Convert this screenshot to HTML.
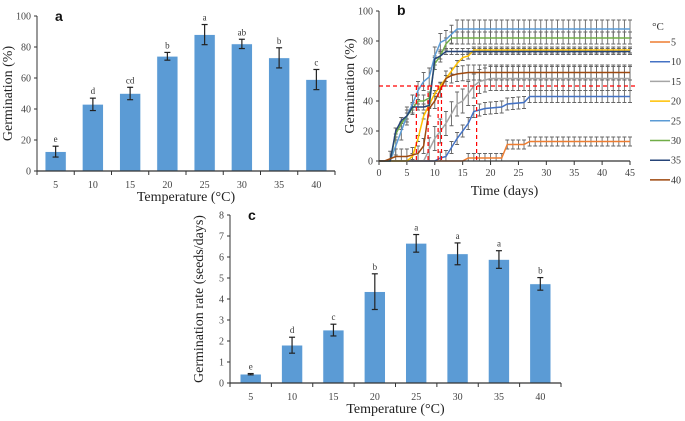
<!DOCTYPE html>
<html><head><meta charset="utf-8"><style>
body{margin:0;background:#fff;}
svg{display:block;font-family:"Liberation Serif",serif;}
</style></head><body>
<svg id="fig" width="685" height="421" viewBox="0 0 685 421"></svg>
<script>
const NS="http://www.w3.org/2000/svg";
const fig=document.getElementById('fig');
// Panel a data
const tempCats=["5","10","15","20","25","30","35","40"];
const germPct=[12.5,43,50,74,88,82,73,59];
const germErr=[3.5,4,4,2.5,6.5,3,6.5,6.5];
const germLetters=["e","d","cd","b","a","ab","b","c"];
const germTicks=[0,20,40,60,80,100];
// Panel c data
const rateVals=[0.42,1.8,2.52,4.35,6.65,6.15,5.88,4.72];
const rateErr=[0.03,0.38,0.28,0.85,0.42,0.52,0.42,0.3];
const rateLetters=["e","d","c","b","a","a","a","b"];
const rateTicks=[0,1,2,3,4,5,6,7,8];
// Panel b data (day, value) per temperature
const seriesNames=["5","10","15","20","25","30","35","40"];
const seriesColors=["#ED7D31","#4472C4","#A5A5A5","#FFC000","#5B9BD5","#70AD47","#264478","#9E480E"];
const s5=[[0,0],[15,0],[16,2],[22,2],[23,11],[26,11],[27,13],[45,13]];
const s10=[[0,0],[10,0],[11,2],[12,3],[14,15],[16,25],[17,33],[19,35],[22,36],[23,38],[26,39],[27,43],[45,43]];
const s15=[[0,0],[8,0],[10,15],[12,25],[14,38],[15,40],[17,50],[18,53],[20,55],[45,55]];
const s20=[[0,0],[5,0],[6,3],[7,15],[8,30],[10,45],[12,55],[14,65],[15,69],[16,70],[17,74],[45,74]];
const s25=[[0,0],[2,0],[3,10],[4,20],[5,30],[6,38],[7,47],[8,53],[9,56],[10,70],[11,79],[12,81],[14,88],[45,88]];
const s30=[[0,0],[2,0],[3,18],[4,25],[5,30],[6,35],[7,40],[8,40],[9,42],[10,65],[11,70],[12,78],[13,82],[45,82]];
const s35=[[0,0],[2,0],[2.5,10],[3,20],[4,27],[5,30],[6,36],[8,36],[9,37],[10,68],[11,70],[12,73],[45,73]];
const s40=[[0,0],[1,0],[3,3],[5,3],[7,5],[8,10],[9,35],[10,40],[12,55],[13,57],[14,58],[16,59],[45,59]];
const seriesData=[s5,s10,s15,s20,s25,s30,s35,s40];
const seriesErr=[3,4,8,2,6,4,2,5];
const t50Days=[6.7,8.8,10.6,11.2,17.5];
const timeTicks=[0,5,10,15,20,25,30,35,40,45];

function el(tag,attrs,parent,text){const e=document.createElementNS(NS,tag);for(const k in attrs)e.setAttribute(k,attrs[k]);if(text!==undefined)e.textContent=text;(parent||fig).appendChild(e);return e;}

function barChart(o){
  const g=el('g',{});
  
  
  const y=v=>o.y0-(v-o.min)/(o.max-o.min)*(o.y0-o.y1);
  const step=(o.x1-o.x0)/o.cats.length;
  const x=i=>o.x0+step*(i+0.5);
  const ya=el('line',{x1:o.x0,y1:o.y1,x2:o.x0,y2:o.y0,stroke:'#333','stroke-width':1},g);
  
  o.ticks.forEach(t=>{
    el('line',{x1:o.x0-3,x2:o.x0,y1:y(t),y2:y(t),stroke:'#333'},g);
    const tl=el('text',{x:o.x0-6,y:y(t)+3.5,'text-anchor':'end','font-size':10,fill:'#444'},g,String(t));
    
  });
  o.cats.forEach((c,i)=>{
    const v=o.vals[i],e=o.errs[i];
    const b=el('rect',{x:x(i)-o.bw/2,y:y(v),width:o.bw,height:o.y0-y(v),fill:'#5B9BD5',stroke:'#fff','stroke-width':0.6},g);
    
    el('line',{x1:x(i),x2:x(i),y1:y(v+e),y2:y(v-e),stroke:'#222','stroke-width':1.2},g);
    el('line',{x1:x(i)-3,x2:x(i)+3,y1:y(v+e),y2:y(v+e),stroke:'#222','stroke-width':1.2},g);
    el('line',{x1:x(i)-3,x2:x(i)+3,y1:y(v-e),y2:y(v-e),stroke:'#222','stroke-width':1.2},g);
    const lt=el('text',{x:x(i),y:y(v+e)-4,'text-anchor':'middle','font-size':9,fill:'#333'},g,o.letters[i]);
    
    const xl=el('text',{x:x(i),y:o.y0+17,'text-anchor':'middle','font-size':10,fill:'#444'},g,c);
    
  });
  const xa=el('line',{x1:o.x0,y1:o.y0,x2:o.x1,y2:o.y0,stroke:'#333','stroke-width':1.2},g);
  
  for(let i=0;i<=o.cats.length;i++)el('line',{x1:o.x0+step*i,x2:o.x0+step*i,y1:o.y0,y2:o.y0+4,stroke:'#333'},g);
  const xt=el('text',{x:(o.x0+o.x1)/2,y:o.y0+30,'text-anchor':'middle','font-size':14,fill:'#222'},g,'Temperature (°C)');
  
  const yt=el('text',{x:0,y:0,'text-anchor':'middle','font-size':14,fill:'#222',transform:`translate(${o.ytx},${(o.y0+o.y1)/2}) rotate(-90)`},g,o.ytitle);
  
  const pl=el('text',{x:o.x0+18,y:o.y1+5,'font-size':14,'font-weight':'bold','font-family':'Liberation Sans, sans-serif',fill:'#111'},g,o.label);
  
}

barChart({name:'panel-a-germination-chart',x0:37,x1:335,y0:171,y1:16,min:0,max:100,bw:21,cats:tempCats,vals:germPct,errs:germErr,letters:germLetters,ticks:germTicks,ytitle:'Germination (%)',ytx:12,label:'a'});
barChart({name:'panel-c-rate-chart',x0:230,x1:561,y0:383,y1:215,min:0,max:8,bw:21,cats:tempCats,vals:rateVals,errs:rateErr,letters:rateLetters,ticks:rateTicks,ytitle:'Germination rate (seeds/days)',ytx:203,label:'c'});

(function(){
  const x0=379,x1=630,y0=161,y1=11;
  const X=d=>x0+d/45*(x1-x0), Y=v=>y0-v/100*(y0-y1);
  const g=el('g',{});
  
  
  [0,20,40,60,80,100].forEach(t=>{
    el('line',{x1:x0-3,x2:x0,y1:Y(t),y2:Y(t),stroke:'#333'},g);
    const tl=el('text',{x:x0-6,y:Y(t)+3.5,'text-anchor':'end','font-size':10,fill:'#444'},g,String(t));
    
  });
  timeTicks.forEach(t=>{
    el('line',{x1:X(t),x2:X(t),y1:y0,y2:y0+4,stroke:'#333'},g);
    const tl=el('text',{x:X(t),y:y0+15,'text-anchor':'middle','font-size':10,fill:'#444'},g,String(t));
    
  });
  function valAt(s,d){for(let i=1;i<s.length;i++){if(d<=s[i][0]){const a=s[i-1],b=s[i];return a[1]+(b[1]-a[1])*(d-a[0])/(b[0]-a[0]);}}return s[s.length-1][1];}
  seriesData.forEach((s,k)=>{
    const e=seriesErr[k];
    for(let d=1;d<=45;d++){const v=valAt(s,d);if(v<=0.5)continue;
      el('path',{d:`M${X(d)},${Y(v+e)}V${Y(Math.max(0,v-e))}M${X(d)-2},${Y(v+e)}h4M${X(d)-2},${Y(Math.max(0,v-e))}h4`,stroke:'#666','stroke-width':0.9,fill:'none'},g);}
  });
  seriesData.forEach((s,k)=>{
    const p=el('polyline',{points:s.map(q=>X(q[0])+','+Y(q[1])).join(' '),fill:'none',stroke:seriesColors[k],'stroke-width':1.5},g);
    
  });
  const h=el('line',{x1:x0,x2:637,y1:Y(50),y2:Y(50),stroke:'#f00','stroke-width':1.2,'stroke-dasharray':'4,3'},g);
  
  t50Days.forEach(d=>{
    const v=el('line',{x1:X(d),x2:X(d),y1:Y(50),y2:y0,stroke:'#f00','stroke-width':1.2,'stroke-dasharray':'4,3'},g);
    
  });
  const ya=el('line',{x1:x0,y1:y1,x2:x0,y2:y0,stroke:'#333'},g);
  
  const xa=el('line',{x1:x0,y1:y0,x2:x1,y2:y0,stroke:'#333','stroke-width':1.2},g);
  
  const xt=el('text',{x:(x0+x1)/2,y:y0+34,'text-anchor':'middle','font-size':14,fill:'#222'},g,'Time (days)');
  
  const yt=el('text',{x:0,y:0,'text-anchor':'middle','font-size':14,fill:'#222',transform:`translate(${x0-25},${(y0+y1)/2}) rotate(-90)`},g,'Germination (%)');
  
  const pl=el('text',{x:x0+18,y:y1+4,'font-size':14,'font-weight':'bold','font-family':'Liberation Sans, sans-serif',fill:'#111'},g,'b');
  
  const lg=el('g',{},g);
  
  el('text',{x:658,y:30,'text-anchor':'middle','font-size':11,fill:'#333'},lg,'°C');
  seriesNames.forEach((n,k)=>{
    const yy=42+k*19.7;
    const le=el('g',{},lg);
    
    el('line',{x1:650,x2:670,y1:yy,y2:yy,stroke:seriesColors[k],'stroke-width':1.5},le);
    el('text',{x:671,y:yy+3.5,'font-size':10,fill:'#333'},le,n);
  });
})();
</script>
</body></html>
